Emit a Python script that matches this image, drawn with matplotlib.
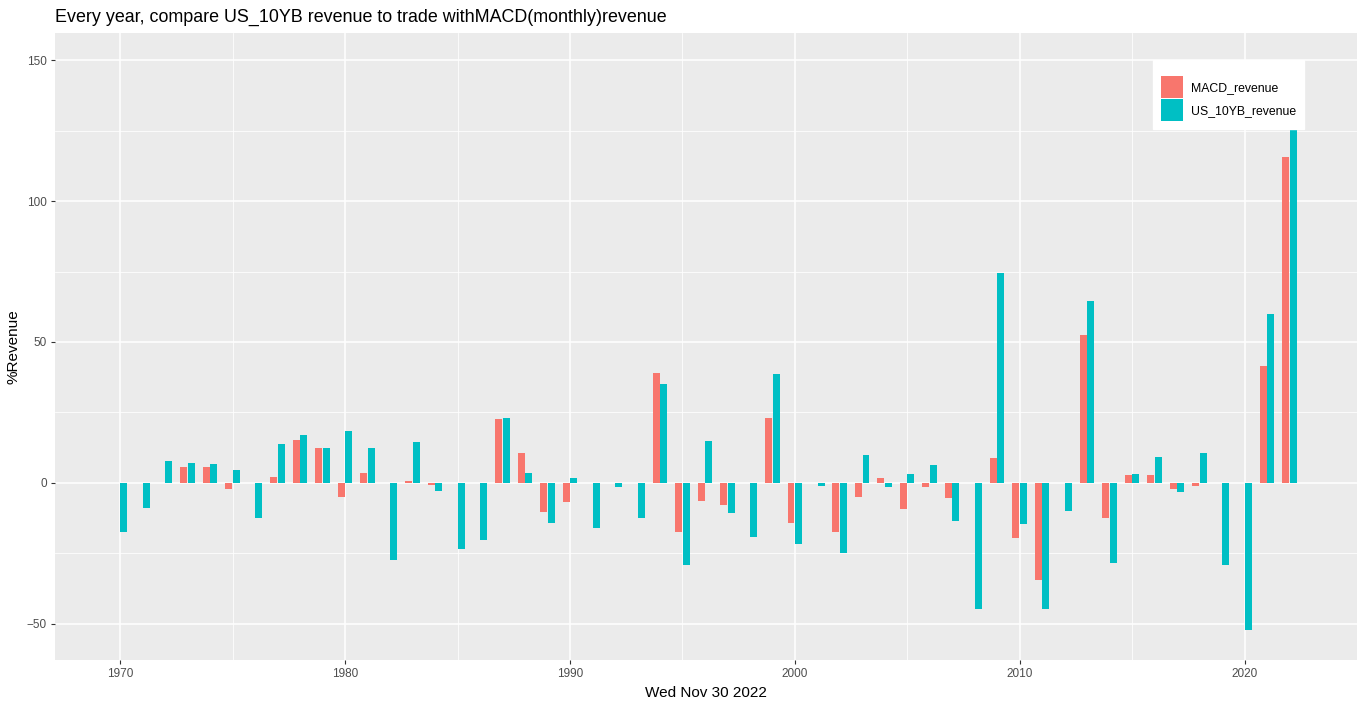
import numpy as np
import matplotlib.pyplot as plt
from matplotlib.patches import Patch

# valores (NaN = sin barra)
years = np.arange(1970, 2023)
macd_revenue = [np.nan, np.nan, np.nan, 5.7, 5.7, -2.1, np.nan, 2.1, 15.2, 12.4,
                -5.0, 3.5, np.nan, 0.7, -0.7, np.nan, np.nan, 22.7, 10.6, -10.3,
                -6.7, np.nan, np.nan, np.nan, 39.0, -17.4, -6.4, -7.8, np.nan, 23.0,
                -14.2, np.nan, -17.4, -5.0, 1.8, -9.2, -1.4, -5.3, np.nan, 8.9,
                -19.5, -34.4, np.nan, 52.5, -12.4, 2.8, 2.8, -2.1, -1.1, np.nan,
                np.nan, 41.4, 115.7]
us10yb_revenue = [-17.4, -8.9, 7.8, 7.1, 6.7, 4.6, -12.4, 13.8, 17.0, 12.4,
                  18.4, 12.4, -27.3, 14.5, -2.8, -23.4, -20.2, 23.0, 3.5, -14.2,
                  1.8, -16.0, -1.4, -12.4, 35.1, -29.1, 14.9, -10.6, -19.1, 38.7,
                  -21.6, -1.1, -24.8, 9.9, -1.4, 3.2, 6.4, -13.5, -44.7, 74.5,
                  -14.5, -44.7, -9.9, 64.5, -28.4, 3.2, 9.2, -3.2, 10.6, -29.1,
                  -52.0, 60.0, 150.0]
series_names = ['MACD_revenue', 'US_10YB_revenue']
colores = ['#F8766D', '#00BFC4']

plt.rcParams['font.family'] = ['Liberation Sans', 'DejaVu Sans']

fig = plt.figure(figsize=(13.66, 7.05), dpi=100)
ax = fig.add_axes([55/1366, 45/705, 1302/1366, 627/705])
ax.set_facecolor('#EBEBEB')

w = 0.31
ax.bar(years - 0.17, macd_revenue, width=w, color=colores[0], zorder=3)
ax.bar(years + 0.165, us10yb_revenue, width=w, color=colores[1], zorder=3)

ax.set_xlim(1967.1, 2024.85)
ax.set_ylim(-62.8, 159.6)
ax.set_xticks(np.arange(1970, 2021, 10))
ax.set_xticks(np.arange(1975, 2026, 10), minor=True)
ax.set_yticks([-50, 0, 50, 100, 150])
ax.set_yticks([-25, 25, 75, 125], minor=True)
ax.grid(which='major', color='white', lw=1.1, zorder=0)
ax.grid(which='minor', color='white', lw=0.55, zorder=0)
ax.set_axisbelow(True)
for s in ax.spines.values():
    s.set_visible(False)
ax.tick_params(which='major', length=3, width=0.8, color='#333333',
               labelcolor='#4D4D4D', labelsize=8.5, pad=3)
ax.tick_params(which='minor', length=0)

ax.set_xlabel('Wed Nov 30 2022', fontsize=11, labelpad=4)
ax.set_ylabel('%Revenue', fontsize=11, labelpad=4)
fig.text(55/1366, 1 - 17/705, 'Every year, compare US_10YB revenue to trade withMACD(monthly)revenue',
         fontsize=12.85, va='center', ha='left')

# leyenda dentro del panel, con un titulo vacio para dejar aire arriba
handles = [Patch(facecolor=c, edgecolor='none') for c in colores]
leg = ax.legend(handles, series_names, loc='upper left',
                bbox_to_anchor=(1153/1366, 1 - 60/705), bbox_transform=fig.transFigure,
                frameon=True, fancybox=False, facecolor='white', edgecolor='white',
                framealpha=1, fontsize=8.8, handlelength=1.8, handleheight=2.39,
                labelspacing=0.08, borderpad=0.65, handletextpad=0.65, borderaxespad=0,
                title=' ', title_fontsize=5)
leg.set_zorder(5)

plt.savefig('out.png', dpi=100)
